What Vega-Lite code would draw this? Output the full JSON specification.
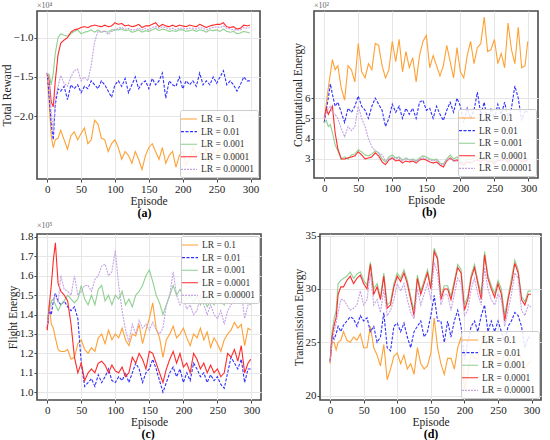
{
  "$schema": "https://vega.github.io/schema/vega-lite/v6.json",
  "background": "white",
  "padding": {"left": 0, "top": 1, "right": 4, "bottom": 0},
  "spacing": 1,
  "resolve": {"scale": {"color": "independent", "strokeDash": "independent"}, "legend": {"color": "independent", "strokeDash": "independent"}},
  "config": {
    "font": "Liberation Serif",
    "view": {"stroke": "#4a4a4a", "strokeWidth": 1.6},
    "axis": {
      "labelFont": "Liberation Serif", "labelFontSize": 11, "labelColor": "#222",
      "titleFont": "Liberation Serif", "titleFontSize": 11.5, "titleFontWeight": "normal", "titleColor": "#222",
      "domain": false, "tickColor": "#444", "tickSize": 3, "gridColor": "#e6e6e6",
      "labelPadding": 1, "titlePadding": 1
    },
    "legend": {
      "labelFont": "Liberation Serif", "labelFontSize": 9.5, "labelColor": "#333",
      "fillColor": "rgba(255,255,255,0.85)", "strokeColor": "#cccccc", "padding": 3, "cornerRadius": 2,
      "symbolType": "M-1.6,0H1.6", "symbolSize": 100, "symbolStrokeWidth": 1.5, "rowPadding": 1.6, "offset": 2, "labelOffset": 6
    },
    "title": {"font": "Liberation Serif"},
    "line": {"strokeWidth": 1.1}
  },
  "datasets": {
    "ra": [
      {"x":0,"a":-1.45,"b":-1.45,"c":-1.45,"d":-1.45,"e":-1.45},
      {"x":3,"a":-1.85,"b":-1.75,"c":-1.47,"d":-1.55,"e":-1.6},
      {"x":6,"a":-2.25,"b":-2.1,"c":-1.6,"d":-1.82,"e":-1.95},
      {"x":9,"a":-2.4,"b":-2.3,"c":-1.45,"d":-1.88,"e":-2.2},
      {"x":12,"a":-2.3,"b":-1.85,"c":-1.2,"d":-1.55,"e":-1.78},
      {"x":16,"a":-2.28,"b":-1.65,"c":-1.0,"d":-1.22,"e":-1.62},
      {"x":20,"a":-2.18,"b":-1.68,"c":-0.95,"d":-1.07,"e":-1.48},
      {"x":25,"a":-2.3,"b":-1.62,"c":-0.97,"d":-1.03,"e":-1.58},
      {"x":30,"a":-2.42,"b":-1.79,"c":-0.98,"d":-1.0,"e":-1.62},
      {"x":35,"a":-2.25,"b":-1.6,"c":-0.95,"d":-0.93,"e":-1.5},
      {"x":40,"a":-2.2,"b":-1.65,"c":-0.92,"d":-0.9,"e":-1.42},
      {"x":45,"a":-2.3,"b":-1.6,"c":-0.9,"d":-0.89,"e":-1.4},
      {"x":50,"a":-2.22,"b":-1.7,"c":-0.95,"d":-0.87,"e":-1.55},
      {"x":55,"a":-2.15,"b":-1.62,"c":-0.93,"d":-0.86,"e":-1.5},
      {"x":60,"a":-2.35,"b":-1.65,"c":-0.92,"d":-0.87,"e":-1.55},
      {"x":65,"a":-2.3,"b":-1.55,"c":-0.9,"d":-0.85,"e":-1.35},
      {"x":70,"a":-2.05,"b":-1.6,"c":-0.93,"d":-0.84,"e":-1.05},
      {"x":75,"a":-2.1,"b":-1.65,"c":-0.9,"d":-0.85,"e":-0.92},
      {"x":80,"a":-2.28,"b":-1.55,"c":-0.93,"d":-0.86,"e":-0.93},
      {"x":85,"a":-2.3,"b":-1.6,"c":-0.92,"d":-0.84,"e":-0.91},
      {"x":90,"a":-2.45,"b":-1.68,"c":-0.93,"d":-0.86,"e":-0.96},
      {"x":95,"a":-2.35,"b":-1.76,"c":-0.9,"d":-0.85,"e":-0.92},
      {"x":100,"a":-2.3,"b":-1.6,"c":-0.9,"d":-0.81,"e":-0.9},
      {"x":105,"a":-2.4,"b":-1.55,"c":-0.9,"d":-0.83,"e":-0.88},
      {"x":110,"a":-2.55,"b":-1.62,"c":-0.89,"d":-0.82,"e":-0.87},
      {"x":115,"a":-2.45,"b":-1.52,"c":-0.91,"d":-0.85,"e":-0.89},
      {"x":120,"a":-2.5,"b":-1.7,"c":-0.9,"d":-0.84,"e":-0.88},
      {"x":125,"a":-2.6,"b":-1.6,"c":-0.93,"d":-0.86,"e":-0.9},
      {"x":130,"a":-2.45,"b":-1.5,"c":-0.92,"d":-0.85,"e":-0.9},
      {"x":135,"a":-2.55,"b":-1.65,"c":-0.9,"d":-0.83,"e":-0.88},
      {"x":140,"a":-2.68,"b":-1.58,"c":-0.93,"d":-0.87,"e":-0.9},
      {"x":145,"a":-2.5,"b":-1.55,"c":-0.91,"d":-0.85,"e":-0.88},
      {"x":150,"a":-2.4,"b":-1.65,"c":-0.92,"d":-0.85,"e":-0.9},
      {"x":155,"a":-2.35,"b":-1.52,"c":-0.9,"d":-0.83,"e":-0.87},
      {"x":160,"a":-2.45,"b":-1.6,"c":-0.88,"d":-0.81,"e":-0.86},
      {"x":165,"a":-2.55,"b":-1.55,"c":-0.91,"d":-0.86,"e":-0.88},
      {"x":170,"a":-2.4,"b":-1.45,"c":-0.89,"d":-0.83,"e":-0.86},
      {"x":175,"a":-2.6,"b":-1.77,"c":-0.9,"d":-0.85,"e":-0.87},
      {"x":180,"a":-2.5,"b":-1.55,"c":-0.92,"d":-0.86,"e":-0.89},
      {"x":185,"a":-2.45,"b":-1.6,"c":-0.91,"d":-0.84,"e":-0.88},
      {"x":190,"a":-2.65,"b":-1.62,"c":-0.92,"d":-0.86,"e":-0.9},
      {"x":195,"a":-2.5,"b":-1.5,"c":-0.9,"d":-0.84,"e":-0.88},
      {"x":200,"a":-2.45,"b":-1.65,"c":-0.9,"d":-0.85,"e":-0.88},
      {"x":205,"a":-2.62,"b":-1.55,"c":-0.92,"d":-0.86,"e":-0.89},
      {"x":210,"a":-2.55,"b":-1.6,"c":-0.91,"d":-0.84,"e":-0.88},
      {"x":215,"a":-2.4,"b":-1.55,"c":-0.9,"d":-0.85,"e":-0.88},
      {"x":220,"a":-2.5,"b":-1.62,"c":-0.92,"d":-0.86,"e":-0.89},
      {"x":225,"a":-2.45,"b":-1.45,"c":-0.9,"d":-0.83,"e":-0.87},
      {"x":230,"a":-2.55,"b":-1.6,"c":-0.91,"d":-0.85,"e":-0.88},
      {"x":235,"a":-2.4,"b":-1.55,"c":-0.93,"d":-0.87,"e":-0.9},
      {"x":240,"a":-2.6,"b":-1.6,"c":-0.9,"d":-0.85,"e":-0.88},
      {"x":245,"a":-2.45,"b":-1.5,"c":-0.91,"d":-0.84,"e":-0.87},
      {"x":250,"a":-2.5,"b":-1.58,"c":-0.9,"d":-0.83,"e":-0.86},
      {"x":255,"a":-2.4,"b":-1.5,"c":-0.92,"d":-0.83,"e":-0.87},
      {"x":260,"a":-2.5,"b":-1.42,"c":-0.89,"d":-0.81,"e":-0.85},
      {"x":265,"a":-2.55,"b":-1.6,"c":-0.92,"d":-0.86,"e":-0.88},
      {"x":270,"a":-2.45,"b":-1.55,"c":-0.93,"d":-0.87,"e":-0.89},
      {"x":275,"a":-2.6,"b":-1.6,"c":-0.92,"d":-0.86,"e":-0.9},
      {"x":280,"a":-2.5,"b":-1.68,"c":-0.95,"d":-0.89,"e":-0.9},
      {"x":285,"a":-2.4,"b":-1.6,"c":-0.94,"d":-0.88,"e":-0.9},
      {"x":290,"a":-2.55,"b":-1.5,"c":-0.92,"d":-0.84,"e":-0.87},
      {"x":295,"a":-2.5,"b":-1.55,"c":-0.93,"d":-0.85,"e":-0.88},
      {"x":299,"a":-2.45,"b":-1.55,"c":-0.94,"d":-0.84,"e":-0.87}
    ],
    "rb": [
      {"x":0,"a":4.8,"b":4.8,"c":4.8,"d":5.0,"e":5.0},
      {"x":3,"a":5.7,"b":5.4,"c":4.9,"d":5.5,"e":5.3},
      {"x":6,"a":6.5,"b":6.0,"c":4.6,"d":5.2,"e":5.5},
      {"x":9,"a":7.2,"b":6.7,"c":4.7,"d":5.4,"e":5.6},
      {"x":12,"a":7.9,"b":6.2,"c":4.3,"d":5.6,"e":5.3},
      {"x":16,"a":7.4,"b":5.6,"c":3.7,"d":4.3,"e":5.2},
      {"x":20,"a":7.6,"b":5.8,"c":3.4,"d":3.5,"e":5.0},
      {"x":25,"a":6.5,"b":5.3,"c":3.0,"d":3.0,"e":4.5},
      {"x":30,"a":5.9,"b":4.8,"c":3.1,"d":3.0,"e":4.1},
      {"x":35,"a":7.6,"b":5.5,"c":3.0,"d":3.05,"e":4.6},
      {"x":40,"a":7.4,"b":5.3,"c":3.2,"d":3.1,"e":4.4},
      {"x":45,"a":6.8,"b":5.6,"c":3.25,"d":3.15,"e":4.6},
      {"x":50,"a":8.7,"b":6.1,"c":3.45,"d":3.35,"e":5.6},
      {"x":55,"a":7.3,"b":5.6,"c":3.35,"d":3.2,"e":5.0},
      {"x":60,"a":7.0,"b":5.4,"c":3.2,"d":3.0,"e":4.6},
      {"x":65,"a":7.7,"b":5.0,"c":3.15,"d":3.05,"e":4.0},
      {"x":70,"a":7.4,"b":5.6,"c":3.25,"d":3.1,"e":3.6},
      {"x":75,"a":8.7,"b":6.0,"c":3.4,"d":3.3,"e":3.4},
      {"x":80,"a":8.6,"b":5.7,"c":3.3,"d":3.15,"e":3.3},
      {"x":85,"a":7.6,"b":5.4,"c":3.0,"d":2.85,"e":3.2},
      {"x":90,"a":7.0,"b":4.6,"c":2.85,"d":2.72,"e":2.9},
      {"x":95,"a":7.4,"b":5.0,"c":3.1,"d":2.95,"e":3.0},
      {"x":100,"a":8.8,"b":5.7,"c":3.2,"d":3.05,"e":3.1},
      {"x":105,"a":7.8,"b":5.3,"c":3.05,"d":2.9,"e":3.0},
      {"x":110,"a":8.9,"b":5.6,"c":3.1,"d":2.95,"e":3.05},
      {"x":115,"a":7.3,"b":5.0,"c":2.95,"d":2.8,"e":2.9},
      {"x":120,"a":8.3,"b":5.5,"c":3.05,"d":2.9,"e":3.0},
      {"x":125,"a":7.5,"b":5.2,"c":2.95,"d":2.85,"e":2.95},
      {"x":130,"a":8.0,"b":5.5,"c":3.0,"d":2.9,"e":2.95},
      {"x":135,"a":6.8,"b":5.0,"c":2.9,"d":2.8,"e":2.85},
      {"x":140,"a":8.1,"b":5.8,"c":3.05,"d":2.95,"e":3.0},
      {"x":145,"a":8.8,"b":5.9,"c":3.15,"d":3.0,"e":3.05},
      {"x":150,"a":9.1,"b":5.4,"c":3.1,"d":2.95,"e":3.0},
      {"x":155,"a":7.5,"b":5.5,"c":3.0,"d":2.85,"e":2.95},
      {"x":160,"a":8.1,"b":5.0,"c":2.95,"d":2.8,"e":2.9},
      {"x":165,"a":7.6,"b":5.6,"c":3.0,"d":2.85,"e":2.95},
      {"x":170,"a":7.1,"b":5.2,"c":2.8,"d":2.7,"e":2.75},
      {"x":175,"a":7.6,"b":4.9,"c":2.75,"d":2.6,"e":2.7},
      {"x":180,"a":8.6,"b":5.4,"c":3.0,"d":2.9,"e":2.95},
      {"x":185,"a":7.8,"b":5.8,"c":3.2,"d":3.05,"e":3.0},
      {"x":190,"a":7.0,"b":5.3,"c":3.0,"d":2.9,"e":2.9},
      {"x":195,"a":8.5,"b":6.0,"c":3.1,"d":2.95,"e":2.9},
      {"x":200,"a":7.3,"b":5.6,"c":2.9,"d":2.8,"e":2.85},
      {"x":205,"a":7.0,"b":4.8,"c":2.8,"d":2.7,"e":2.8},
      {"x":210,"a":8.1,"b":5.5,"c":3.0,"d":2.85,"e":2.9},
      {"x":215,"a":8.8,"b":5.0,"c":2.95,"d":2.8,"e":2.85},
      {"x":220,"a":7.7,"b":5.4,"c":3.05,"d":2.9,"e":2.9},
      {"x":225,"a":8.5,"b":6.3,"c":3.1,"d":2.95,"e":3.0},
      {"x":230,"a":8.7,"b":5.2,"c":2.95,"d":2.85,"e":2.9},
      {"x":235,"a":10.0,"b":5.8,"c":3.1,"d":3.0,"e":3.05},
      {"x":240,"a":8.3,"b":4.8,"c":2.9,"d":2.8,"e":2.85},
      {"x":245,"a":8.4,"b":5.5,"c":3.0,"d":2.9,"e":2.95},
      {"x":250,"a":8.9,"b":5.0,"c":2.85,"d":2.75,"e":2.8},
      {"x":255,"a":7.7,"b":5.7,"c":3.05,"d":2.95,"e":3.0},
      {"x":260,"a":8.2,"b":5.2,"c":3.0,"d":2.9,"e":2.95},
      {"x":265,"a":7.5,"b":5.8,"c":3.1,"d":3.0,"e":3.05},
      {"x":270,"a":9.7,"b":5.0,"c":2.95,"d":2.85,"e":2.9},
      {"x":275,"a":8.4,"b":5.5,"c":3.15,"d":3.05,"e":3.1},
      {"x":280,"a":7.7,"b":6.6,"c":3.25,"d":3.15,"e":3.2},
      {"x":285,"a":9.5,"b":6.0,"c":3.1,"d":3.0,"e":3.05},
      {"x":290,"a":7.5,"b":4.9,"c":2.95,"d":2.85,"e":2.9},
      {"x":295,"a":7.6,"b":5.4,"c":3.0,"d":2.9,"e":2.95},
      {"x":299,"a":8.8,"b":5.3,"c":3.05,"d":2.95,"e":3.0}
    ],
    "rc": [
      {"x":0,"a":1.32,"b":1.33,"c":1.38,"d":1.32,"e":1.35},
      {"x":3,"a":1.45,"b":1.42,"c":1.43,"d":1.45,"e":1.42},
      {"x":6,"a":1.35,"b":1.4,"c":1.47,"d":1.55,"e":1.45},
      {"x":9,"a":1.33,"b":1.47,"c":1.48,"d":1.68,"e":1.48},
      {"x":12,"a":1.28,"b":1.51,"c":1.45,"d":1.77,"e":1.5},
      {"x":16,"a":1.22,"b":1.47,"c":1.42,"d":1.56,"e":1.46},
      {"x":20,"a":1.21,"b":1.45,"c":1.45,"d":1.52,"e":1.6},
      {"x":25,"a":1.21,"b":1.47,"c":1.47,"d":1.5,"e":1.53},
      {"x":30,"a":1.22,"b":1.44,"c":1.5,"d":1.47,"e":1.52},
      {"x":35,"a":1.17,"b":1.42,"c":1.48,"d":1.35,"e":1.5},
      {"x":40,"a":1.18,"b":1.44,"c":1.46,"d":1.18,"e":1.6},
      {"x":45,"a":1.25,"b":1.38,"c":1.48,"d":1.1,"e":1.5},
      {"x":50,"a":1.27,"b":1.15,"c":1.55,"d":1.15,"e":1.52},
      {"x":55,"a":1.22,"b":1.03,"c":1.48,"d":1.06,"e":1.55},
      {"x":60,"a":1.2,"b":1.05,"c":1.45,"d":1.1,"e":1.55},
      {"x":65,"a":1.23,"b":1.07,"c":1.5,"d":1.12,"e":1.52},
      {"x":70,"a":1.21,"b":1.03,"c":1.45,"d":1.1,"e":1.58},
      {"x":75,"a":1.28,"b":1.09,"c":1.53,"d":1.15,"e":1.6},
      {"x":80,"a":1.3,"b":1.05,"c":1.55,"d":1.16,"e":1.65},
      {"x":85,"a":1.25,"b":1.08,"c":1.47,"d":1.14,"e":1.66},
      {"x":90,"a":1.32,"b":1.12,"c":1.5,"d":1.1,"e":1.6},
      {"x":95,"a":1.27,"b":1.06,"c":1.45,"d":1.14,"e":1.62},
      {"x":100,"a":1.3,"b":1.05,"c":1.5,"d":1.11,"e":1.73},
      {"x":105,"a":1.28,"b":1.08,"c":1.48,"d":1.1,"e":1.55},
      {"x":110,"a":1.33,"b":1.06,"c":1.52,"d":1.13,"e":1.42},
      {"x":115,"a":1.27,"b":1.1,"c":1.45,"d":1.08,"e":1.32},
      {"x":120,"a":1.24,"b":1.05,"c":1.48,"d":1.1,"e":1.26},
      {"x":125,"a":1.3,"b":1.1,"c":1.44,"d":1.18,"e":1.35},
      {"x":130,"a":1.29,"b":1.15,"c":1.5,"d":1.15,"e":1.3},
      {"x":135,"a":1.35,"b":1.12,"c":1.52,"d":1.2,"e":1.37},
      {"x":140,"a":1.25,"b":1.05,"c":1.55,"d":1.17,"e":1.33},
      {"x":145,"a":1.32,"b":1.1,"c":1.6,"d":1.12,"e":1.35},
      {"x":150,"a":1.38,"b":1.12,"c":1.63,"d":1.21,"e":1.32},
      {"x":155,"a":1.46,"b":1.17,"c":1.57,"d":1.2,"e":1.36},
      {"x":160,"a":1.33,"b":1.12,"c":1.5,"d":1.15,"e":1.32},
      {"x":165,"a":1.28,"b":1.06,"c":1.46,"d":1.1,"e":1.3},
      {"x":170,"a":1.18,"b":1.0,"c":1.4,"d":1.05,"e":1.33},
      {"x":175,"a":1.27,"b":1.05,"c":1.45,"d":1.12,"e":1.45},
      {"x":180,"a":1.3,"b":1.1,"c":1.5,"d":1.17,"e":1.5},
      {"x":185,"a":1.34,"b":1.13,"c":1.55,"d":1.21,"e":1.62},
      {"x":190,"a":1.28,"b":1.08,"c":1.5,"d":1.15,"e":1.5},
      {"x":195,"a":1.3,"b":1.12,"c":1.53,"d":1.2,"e":1.45},
      {"x":200,"a":1.33,"b":1.05,"c":1.5,"d":1.13,"e":1.48},
      {"x":205,"a":1.28,"b":1.1,"c":1.48,"d":1.15,"e":1.43},
      {"x":210,"a":1.24,"b":1.06,"c":1.5,"d":1.1,"e":1.45},
      {"x":215,"a":1.3,"b":1.15,"c":1.46,"d":1.2,"e":1.4},
      {"x":220,"a":1.28,"b":1.12,"c":1.5,"d":1.17,"e":1.42},
      {"x":225,"a":1.33,"b":1.08,"c":1.45,"d":1.12,"e":1.5},
      {"x":230,"a":1.27,"b":1.1,"c":1.48,"d":1.15,"e":1.45},
      {"x":235,"a":1.31,"b":1.05,"c":1.44,"d":1.1,"e":1.4},
      {"x":240,"a":1.23,"b":1.09,"c":1.47,"d":1.14,"e":1.45},
      {"x":245,"a":1.28,"b":1.06,"c":1.45,"d":1.1,"e":1.4},
      {"x":250,"a":1.25,"b":1.08,"c":1.5,"d":1.12,"e":1.38},
      {"x":255,"a":1.21,"b":1.04,"c":1.47,"d":1.08,"e":1.42},
      {"x":260,"a":1.27,"b":1.02,"c":1.45,"d":1.1,"e":1.35},
      {"x":265,"a":1.3,"b":1.1,"c":1.5,"d":1.2,"e":1.42},
      {"x":270,"a":1.32,"b":1.18,"c":1.52,"d":1.18,"e":1.45},
      {"x":275,"a":1.36,"b":1.15,"c":1.5,"d":1.22,"e":1.48},
      {"x":280,"a":1.33,"b":1.12,"c":1.48,"d":1.16,"e":1.5},
      {"x":285,"a":1.35,"b":1.17,"c":1.52,"d":1.24,"e":1.52},
      {"x":290,"a":1.24,"b":1.05,"c":1.47,"d":1.1,"e":1.38},
      {"x":295,"a":1.33,"b":1.12,"c":1.46,"d":1.15,"e":1.45},
      {"x":299,"a":1.32,"b":1.12,"c":1.45,"d":1.17,"e":1.46}
    ],
    "rd": [
      {"x":0,"a":23.0,"b":23.2,"c":23.2,"d":23.2,"e":23.2},
      {"x":3,"a":25.0,"b":25.6,"c":26.0,"d":25.5,"e":25.0},
      {"x":6,"a":25.0,"b":25.3,"c":27.2,"d":26.6,"e":26.0},
      {"x":9,"a":24.3,"b":25.8,"c":28.0,"d":27.3,"e":26.8},
      {"x":12,"a":25.0,"b":26.5,"c":30.5,"d":29.5,"e":27.8},
      {"x":16,"a":25.2,"b":26.0,"c":30.8,"d":30.2,"e":29.0},
      {"x":20,"a":26.0,"b":26.6,"c":31.0,"d":30.2,"e":29.0},
      {"x":25,"a":25.2,"b":27.0,"c":31.2,"d":30.8,"e":28.5},
      {"x":30,"a":25.0,"b":27.4,"c":31.6,"d":31.2,"e":28.0},
      {"x":35,"a":25.5,"b":27.2,"c":31.0,"d":30.5,"e":28.2},
      {"x":40,"a":25.2,"b":26.5,"c":31.4,"d":31.0,"e":28.5},
      {"x":45,"a":25.8,"b":27.5,"c":31.6,"d":31.3,"e":29.8},
      {"x":50,"a":24.5,"b":27.0,"c":30.8,"d":30.5,"e":28.5},
      {"x":55,"a":24.5,"b":27.3,"c":30.4,"d":30.0,"e":29.0},
      {"x":60,"a":26.5,"b":26.0,"c":32.5,"d":32.3,"e":31.5},
      {"x":65,"a":24.5,"b":26.5,"c":30.0,"d":29.5,"e":28.5},
      {"x":70,"a":23.8,"b":25.0,"c":30.5,"d":30.2,"e":29.0},
      {"x":75,"a":22.8,"b":25.5,"c":29.2,"d":29.0,"e":27.8},
      {"x":80,"a":24.8,"b":27.8,"c":31.5,"d":31.2,"e":30.0},
      {"x":85,"a":21.5,"b":24.5,"c":28.5,"d":28.2,"e":27.5},
      {"x":90,"a":22.5,"b":24.2,"c":28.8,"d":28.5,"e":28.0},
      {"x":95,"a":23.7,"b":26.5,"c":30.5,"d":30.2,"e":29.0},
      {"x":100,"a":24.0,"b":26.8,"c":31.5,"d":31.2,"e":30.5},
      {"x":105,"a":23.0,"b":26.0,"c":31.0,"d":30.7,"e":29.8},
      {"x":110,"a":23.8,"b":26.8,"c":31.8,"d":31.5,"e":30.5},
      {"x":115,"a":22.5,"b":25.5,"c":30.8,"d":30.5,"e":29.0},
      {"x":120,"a":23.0,"b":24.5,"c":29.3,"d":29.0,"e":27.8},
      {"x":125,"a":22.0,"b":26.0,"c":28.0,"d":27.5,"e":27.2},
      {"x":130,"a":24.5,"b":26.5,"c":31.3,"d":31.0,"e":30.0},
      {"x":135,"a":23.0,"b":27.0,"c":29.8,"d":29.5,"e":28.5},
      {"x":140,"a":22.5,"b":25.5,"c":30.8,"d":30.5,"e":29.5},
      {"x":145,"a":22.8,"b":26.0,"c":31.8,"d":31.5,"e":30.5},
      {"x":150,"a":24.0,"b":27.5,"c":30.3,"d":30.0,"e":29.0},
      {"x":155,"a":27.3,"b":29.4,"c":33.8,"d":33.5,"e":32.5},
      {"x":160,"a":24.5,"b":27.0,"c":33.0,"d":32.8,"e":31.5},
      {"x":165,"a":23.0,"b":27.0,"c":29.3,"d":29.0,"e":28.5},
      {"x":170,"a":22.0,"b":25.0,"c":30.3,"d":30.0,"e":29.5},
      {"x":175,"a":23.5,"b":27.0,"c":30.3,"d":30.0,"e":29.5},
      {"x":180,"a":23.5,"b":25.5,"c":29.3,"d":29.0,"e":28.0},
      {"x":185,"a":22.5,"b":27.0,"c":30.8,"d":30.5,"e":29.5},
      {"x":190,"a":24.5,"b":28.0,"c":32.3,"d":32.0,"e":31.0},
      {"x":195,"a":25.5,"b":26.5,"c":31.8,"d":31.5,"e":30.5},
      {"x":200,"a":20.5,"b":23.4,"c":28.5,"d":28.0,"e":27.5},
      {"x":205,"a":22.0,"b":25.0,"c":29.3,"d":29.0,"e":28.0},
      {"x":210,"a":24.0,"b":26.5,"c":31.3,"d":31.0,"e":30.0},
      {"x":215,"a":23.5,"b":27.0,"c":32.3,"d":32.0,"e":31.0},
      {"x":220,"a":23.5,"b":26.0,"c":30.8,"d":30.5,"e":29.5},
      {"x":225,"a":24.8,"b":27.5,"c":29.5,"d":29.0,"e":28.5},
      {"x":230,"a":26.0,"b":28.5,"c":33.5,"d":33.2,"e":32.0},
      {"x":235,"a":24.0,"b":26.0,"c":31.3,"d":31.0,"e":30.0},
      {"x":240,"a":23.0,"b":27.0,"c":30.3,"d":30.0,"e":29.0},
      {"x":245,"a":24.0,"b":26.0,"c":29.6,"d":29.2,"e":28.5},
      {"x":250,"a":23.5,"b":27.0,"c":30.8,"d":30.5,"e":29.5},
      {"x":255,"a":23.0,"b":26.0,"c":30.0,"d":29.5,"e":29.0},
      {"x":260,"a":24.0,"b":25.0,"c":27.5,"d":27.0,"e":26.5},
      {"x":265,"a":23.5,"b":26.5,"c":29.3,"d":29.0,"e":28.0},
      {"x":270,"a":22.5,"b":27.0,"c":31.0,"d":30.5,"e":29.5},
      {"x":275,"a":23.5,"b":27.8,"c":32.7,"d":32.4,"e":31.5},
      {"x":280,"a":24.0,"b":27.5,"c":31.8,"d":31.5,"e":31.0},
      {"x":285,"a":23.5,"b":26.5,"c":29.3,"d":29.0,"e":28.0},
      {"x":290,"a":22.5,"b":24.5,"c":28.8,"d":28.5,"e":27.5},
      {"x":295,"a":23.0,"b":25.5,"c":29.8,"d":29.5,"e":28.5},
      {"x":299,"a":23.3,"b":25.3,"c":29.8,"d":29.5,"e":28.3}
    ]
  },
  "vconcat": [
    {
      "resolve": {"scale": {"color": "independent", "strokeDash": "independent"}, "legend": {"color": "independent", "strokeDash": "independent"}},
      "spacing": 30,
      "hconcat": [
        {
          "resolve": {"scale": {"color": "independent", "strokeDash": "independent"}, "legend": {"color": "independent", "strokeDash": "independent"}},
          "title": {"text": "(a)", "orient": "bottom", "anchor": "middle", "fontSize": 12, "fontWeight": "bold", "offset": 1, "dx": 14},
          "vconcat": [
            {
              "width": 223, "height": 168,
              "title": {"text": "×10⁴", "anchor": "start", "frame": "group", "fontSize": 8, "fontWeight": "normal", "color": "#666", "offset": 1},
              "data": {"name": "ra"},
              "transform": [{"fold": ["a", "b", "c", "d", "e"], "as": ["lr", "v"]}],
              "mark": {"type": "line", "strokeWidth": 1.1},
              "encoding": {
                "x": {"field": "x", "type": "quantitative", "scale": {"domain": [-15, 314], "nice": false}, "axis": {"values": [0, 50, 100, 150, 200, 250, 300], "title": "Episode"}},
                "y": {"field": "v", "type": "quantitative", "scale": {"domain": [-2.8, -0.66], "nice": false, "zero": false}, "axis": {"values": [-2, -1.5, -1], "format": ".1f", "title": "Total Reward"}},
                "color": {"field": "lr", "type": "nominal", "scale": {"domain": ["a", "b", "c", "d", "e"], "range": ["#ffa033", "#3030ff", "#8fd08f", "#ff2a2a", "#c3a3e3"]}, "legend": {"title": null, "orient": "bottom-right", "labelExpr": "datum.label == 'a' ? 'LR = 0.1' : datum.label == 'b' ? 'LR = 0.01' : datum.label == 'c' ? 'LR = 0.001' : datum.label == 'd' ? 'LR = 0.0001' : 'LR = 0.00001'", "encode": {"symbols": {"update": {"strokeDash": {"signal": "datum.value == 'b' ? [3, 1.5] : datum.value == 'e' ? [2, 1] : [1, 0]"}}}}}},
                "strokeDash": {"field": "lr", "type": "nominal", "scale": {"domain": ["a", "b", "c", "d", "e"], "range": [[1, 0], [3, 1.5], [1, 0], [1, 0], [2, 1]]}, "legend": null}
              }
            }
          ]
        },
        {
          "resolve": {"scale": {"color": "independent", "strokeDash": "independent"}, "legend": {"color": "independent", "strokeDash": "independent"}},
          "title": {"text": "(b)", "orient": "bottom", "anchor": "middle", "fontSize": 12, "fontWeight": "bold", "offset": 1, "dx": 14},
          "vconcat": [
            {
              "width": 224, "height": 167,
              "title": {"text": "×10²", "anchor": "start", "frame": "group", "fontSize": 8, "fontWeight": "normal", "color": "#666", "offset": 1},
              "data": {"name": "rb"},
              "transform": [{"fold": ["a", "b", "c", "d", "e"], "as": ["lr", "v"]}],
              "mark": {"type": "line", "strokeWidth": 1.1},
              "encoding": {
                "x": {"field": "x", "type": "quantitative", "scale": {"domain": [-15, 314], "nice": false}, "axis": {"values": [0, 50, 100, 150, 200, 250, 300], "title": "Episode"}},
                "y": {"field": "v", "type": "quantitative", "scale": {"domain": [2.06, 10.3], "nice": false, "zero": false}, "axis": {"values": [3, 4, 5, 6], "format": "d", "title": "Computational Energy"}},
                "color": {"field": "lr", "type": "nominal", "scale": {"domain": ["a", "b", "c", "d", "e"], "range": ["#ffa033", "#3030ff", "#8fd08f", "#ff2a2a", "#c3a3e3"]}, "legend": {"title": null, "orient": "bottom-right", "labelExpr": "datum.label == 'a' ? 'LR = 0.1' : datum.label == 'b' ? 'LR = 0.01' : datum.label == 'c' ? 'LR = 0.001' : datum.label == 'd' ? 'LR = 0.0001' : 'LR = 0.00001'", "encode": {"symbols": {"update": {"strokeDash": {"signal": "datum.value == 'b' ? [3, 1.5] : datum.value == 'e' ? [2, 1] : [1, 0]"}}}}}},
                "strokeDash": {"field": "lr", "type": "nominal", "scale": {"domain": ["a", "b", "c", "d", "e"], "range": [[1, 0], [3, 1.5], [1, 0], [1, 0], [2, 1]]}, "legend": null}
              }
            }
          ]
        }
      ]
    },
    {
      "resolve": {"scale": {"color": "independent", "strokeDash": "independent"}, "legend": {"color": "independent", "strokeDash": "independent"}},
      "spacing": 30,
      "hconcat": [
        {
          "resolve": {"scale": {"color": "independent", "strokeDash": "independent"}, "legend": {"color": "independent", "strokeDash": "independent"}},
          "title": {"text": "(c)", "orient": "bottom", "anchor": "middle", "fontSize": 12, "fontWeight": "bold", "offset": 1, "dx": 14},
          "vconcat": [
            {
              "width": 224, "height": 166,
              "title": {"text": "×10⁵", "anchor": "start", "frame": "group", "fontSize": 8, "fontWeight": "normal", "color": "#666", "offset": 1},
              "data": {"name": "rc"},
              "transform": [{"fold": ["a", "b", "c", "d", "e"], "as": ["lr", "v"]}],
              "mark": {"type": "line", "strokeWidth": 1.1},
              "encoding": {
                "x": {"field": "x", "type": "quantitative", "scale": {"domain": [-15, 314], "nice": false}, "axis": {"values": [0, 50, 100, 150, 200, 250, 300], "title": "Episode"}},
                "y": {"field": "v", "type": "quantitative", "scale": {"domain": [0.96, 1.815], "nice": false, "zero": false}, "axis": {"values": [1.0, 1.1, 1.2, 1.3, 1.4, 1.5, 1.6, 1.7, 1.8], "format": ".1f", "title": "Flight Energy"}},
                "color": {"field": "lr", "type": "nominal", "scale": {"domain": ["a", "b", "c", "d", "e"], "range": ["#ffa033", "#3030ff", "#8fd08f", "#ff2a2a", "#c3a3e3"]}, "legend": {"title": null, "orient": "top-right", "labelExpr": "datum.label == 'a' ? 'LR = 0.1' : datum.label == 'b' ? 'LR = 0.01' : datum.label == 'c' ? 'LR = 0.001' : datum.label == 'd' ? 'LR = 0.0001' : 'LR = 0.00001'", "encode": {"symbols": {"update": {"strokeDash": {"signal": "datum.value == 'b' ? [3, 1.5] : datum.value == 'e' ? [2, 1] : [1, 0]"}}}}}},
                "strokeDash": {"field": "lr", "type": "nominal", "scale": {"domain": ["a", "b", "c", "d", "e"], "range": [[1, 0], [3, 1.5], [1, 0], [1, 0], [2, 1]]}, "legend": null}
              }
            }
          ]
        },
        {
          "resolve": {"scale": {"color": "independent", "strokeDash": "independent"}, "legend": {"color": "independent", "strokeDash": "independent"}},
          "title": {"text": "(d)", "orient": "bottom", "anchor": "middle", "fontSize": 12, "fontWeight": "bold", "offset": 1, "dx": 14},
          "vconcat": [
            {
              "width": 221, "height": 166,
              "data": {"name": "rd"},
              "transform": [{"fold": ["a", "b", "c", "d", "e"], "as": ["lr", "v"]}],
              "mark": {"type": "line", "strokeWidth": 1.1},
              "encoding": {
                "x": {"field": "x", "type": "quantitative", "scale": {"domain": [-15, 314], "nice": false}, "axis": {"values": [0, 50, 100, 150, 200, 250, 300], "title": "Episode"}},
                "y": {"field": "v", "type": "quantitative", "scale": {"domain": [19.6, 35.15], "nice": false, "zero": false}, "axis": {"values": [20, 25, 30, 35], "format": "d", "title": "Transmission Energy"}},
                "color": {"field": "lr", "type": "nominal", "scale": {"domain": ["a", "b", "c", "d", "e"], "range": ["#ffa033", "#3030ff", "#8fd08f", "#ff2a2a", "#c3a3e3"]}, "legend": {"title": null, "orient": "bottom-right", "labelExpr": "datum.label == 'a' ? 'LR = 0.1' : datum.label == 'b' ? 'LR = 0.01' : datum.label == 'c' ? 'LR = 0.001' : datum.label == 'd' ? 'LR = 0.0001' : 'LR = 0.00001'", "encode": {"symbols": {"update": {"strokeDash": {"signal": "datum.value == 'b' ? [3, 1.5] : datum.value == 'e' ? [2, 1] : [1, 0]"}}}}}},
                "strokeDash": {"field": "lr", "type": "nominal", "scale": {"domain": ["a", "b", "c", "d", "e"], "range": [[1, 0], [3, 1.5], [1, 0], [1, 0], [2, 1]]}, "legend": null}
              }
            }
          ]
        }
      ]
    }
  ]
}
